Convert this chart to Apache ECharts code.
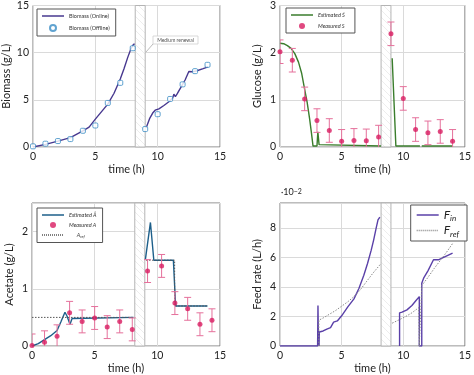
<!DOCTYPE html>
<html>
<head>
<meta charset="utf-8">
<script src="https://cdn.jsdelivr.net/npm/echarts@6/dist/echarts.min.js"></script>
<style>
  html, body { margin: 0; padding: 0; background: #fff; }
  #chart { width: 474px; height: 375px; }
</style>
</head>
<body>
<div id="chart"></div>
<script>
  // sample times (h)
  var tOff = [0, 1, 2, 3, 4, 5, 6, 7, 8, 9, 10, 11, 12, 13, 14];

  // biomass (g/L)
  var biomassOff = [0.07, 0.35, 0.63, 0.84, 1.72, 2.28, 4.67, 6.8, 10.47, 1.9, 3.48, 5.09, 6.64, 8.04, 8.71];
  var bioOnT = [0, 1, 2, 3, 4, 4.5, 5, 5.5, 6, 6.5, 7, 7.3, 7.6, 7.85, 8.05, 8.15, null,
    9.08, 9.35, 9.6, 9.8, 10.1, 10.5, 10.9, 11.2, 11.3, 11.42, 11.55, 11.85, 12.2, 12.5, 12.8, 13.15, 13.65, 14.05];
  var bioOnY = [0, 0.28, 0.62, 1.0, 1.7, 2.1, 2.95, 3.75, 4.55, 5.7, 7.2, 8.3, 9.5, 10.4, 10.85, 10.95, null,
    2.05, 3.0, 3.6, 3.9, 4.05, 4.4, 4.8, 5.2, 5.6, 5.35, 5.6, 6.3, 7.1, 8.0, 7.97, 8.08, 8.3, 8.5];

  // glucose (g/L)
  var glucoseMeas = [2.02, 1.84, 1.02, 0.56, 0.35, 0.12, 0.14, 0.13, 0.21, 2.4, 1.03, 0.37, 0.3, 0.33, 0.12];
  var glucoseErr = [0.25, 0.25, 0.25, 0.25, 0.25, 0.25, 0.25, 0.25, 0.25, 0.25, 0.25, 0.25, 0.25, 0.25, 0.25];
  var glcEstT = [0, 0.3, 0.6, 0.9, 1.2, 1.5, 1.75, 2.0, 2.2, 2.4, 2.55, 2.68, 3.0, 3.07, 3.17, 3.3, 8.2, null,
    9.1, 9.4, 11.35, null, 11.5, 14];
  var glcEstY = [2.2, 2.19, 2.15, 2.09, 1.98, 1.8, 1.57, 1.22, 0.95, 0.6, 0.3, 0.02, 0.02, 0.32, 0.05, 0.02, 0.02, null,
    1.88, 0.02, 0.02, null, 0.02, 0.02];

  // acetate (g/L)
  var acetateT = [0, 1, 2, 3, 4, 5, 6, 7, 8, 9.22, 10.34, 11.4, 12.42, 13.4, 14.36];
  var acetateMeas = [0.01, 0.065, 0.17, 0.58, 0.43, 0.49, 0.33, 0.43, 0.29, 1.31, 1.4, 0.75, 0.65, 0.38, 0.45];
  var acetateErr = [0.2, 0.2, 0.2, 0.2, 0.2, 0.2, 0.2, 0.2, 0.2, 0.2, 0.2, 0.2, 0.2, 0.2, 0.2];
  var acEstT = [0, 0.5, 1, 1.5, 2, 2.3, 2.63, 2.8, 3.03, 3.2, 3.35, 8.1, null, 9.05, 9.45, 9.72, 11.28, 11.46, 14];
  var acEstY = [0, 0.04, 0.11, 0.18, 0.27, 0.42, 0.59, 0.52, 0.38, 0.48, 0.5, 0.5, null, 1.52, 2.16, 1.5, 1.5, 0.7, 0.7];
  var arefT = [0, 8.1, null, 9.1, 11.38, 11.38, 14];
  var arefY = [0.5, 0.5, null, 1.5, 1.5, 0.7, 0.7];

  // feed rate (x 10^-2 L/h)
  var finT = [0, 3.05, 3.08, 3.11, 3.13, 3.15, 3.17, 3.19, 3.22, 3.5, 3.8, 4.1, 4.35, 4.65, 5.0, 5.5, 6.0, 6.4, 6.8, 7.1, 7.4, 7.6, 7.8, 7.95, 8.1, null,
    9.7, 9.7, 9.9, 10.3, 10.7, 11.0, 11.3, 11.3, 11.5, 11.5, 11.65, 12.0, 12.45, 12.85, 13.1, 14];
  var finY = [0, 0, 2.75, 0.9, 0, 0.9, 0, 0.95, 0.95, 1.02, 1.15, 1.25, 1.62, 1.7, 2.05, 2.65, 3.2, 3.9, 4.8, 5.6, 6.5, 7.2, 8.0, 8.55, 8.75, null,
    0, 2.25, 2.3, 2.45, 2.75, 3.05, 3.35, 0, 0, 4.25, 4.6, 5.1, 5.85, 5.85, 5.95, 6.3];
  var frefT = [3.15, 3.15, 3.5, 4, 4.5, 5, 5.5, 6, 6.5, 7, 7.5, 8.15, null,
    9.1, 9.6, 10.2, 10.7, 11.25, 11.3, 11.45, 11.5, 12, 12.5, 13, 13.5, 14];
  var frefY = [0, 1.75, 1.9, 2.15, 2.4, 2.7, 3.0, 3.35, 3.8, 4.35, 4.9, 5.55, null,
    1.55, 1.75, 2.0, 2.25, 2.6, 0, 0, 4.1, 4.65, 5.25, 5.8, 6.35, 6.95];

  // medium renewal window (h)
  var renewal = [8.2, 9.0];

  function zip(xs, ys) {
    return xs.map(function (x, i) { return x === null ? [null, null] : [x, ys[i]]; });
  }
  function errData(xs, ys, es) {
    return xs.map(function (x, i) { return [x, ys[i] - es[i], ys[i] + es[i]]; });
  }

  // legend icons: a solid stroke and a dotted stroke
  var solidIcon = "path://M0,0H44V3H0Z";
  var dottedIcon = "path://" + [0, 1, 2, 3, 4, 5, 6, 7, 8, 9, 10].map(function (k) {
    return "M" + (k * 4) + ",0h2v3h-2z";
  }).join("") + "M44,0h0.01v3h-0.01z";

  var hatch = document.createElement("canvas");
  hatch.width = 7;
  hatch.height = 7;
  var hc = hatch.getContext("2d");
  hc.fillStyle = "#fff";
  hc.fillRect(0, 0, 7, 7);
  hc.strokeStyle = "#e0e0e0";
  hc.lineWidth = 0.6;
  hc.beginPath();
  hc.moveTo(0, 0); hc.lineTo(7, 7);
  hc.moveTo(-7, 0); hc.lineTo(7, 14);
  hc.moveTo(0, -7); hc.lineTo(14, 7);
  hc.stroke();

  var font = "Lato";
  var errColor = "#e5709b";
  var dotColor = "#d81b60";

  function errRender(params, api) {
    var x = api.value(0);
    var lo = api.coord([x, api.value(1)]);
    var hi = api.coord([x, api.value(2)]);
    var w = 3.5;
    var st = { stroke: errColor, lineWidth: 1 };
    return {
      type: "group",
      children: [
        { type: "line", shape: { x1: lo[0], y1: lo[1], x2: hi[0], y2: hi[1] }, style: st },
        { type: "line", shape: { x1: hi[0] - w, y1: hi[1], x2: hi[0] + w, y2: hi[1] }, style: st },
        { type: "line", shape: { x1: lo[0] - w, y1: lo[1], x2: lo[0] + w, y2: lo[1] }, style: st },
      ],
    };
  }

  function hatchSeries(i) {
    return {
      type: "line",
      xAxisIndex: i,
      yAxisIndex: i,
      data: [],
      z: 1,
      markArea: {
        silent: true,
        itemStyle: { color: { image: hatch, repeat: "repeat" }, borderColor: "#b4b4b4", borderWidth: 1 },
        data: [[{ xAxis: renewal[0] }, { xAxis: renewal[1] }]],
      },
    };
  }

  var grids = [
    { left: 32, top: 4, width: 188, height: 143 },
    { left: 280, top: 4, width: 189, height: 143 },
    { left: 32, top: 203, width: 188, height: 143 },
    { left: 280, top: 203, width: 189, height: 143 },
  ].map(function (g) {
    g.show = true;
    g.borderColor = "#7a7a7a";
    g.borderWidth = 1;
    return g;
  });

  var xAxes = [0, 1, 2, 3].map(function (i) {
    return {
      type: "value",
      gridIndex: i,
      min: 0,
      max: 15,
      interval: 5,
      name: "time (h)",
      nameLocation: "middle",
      nameGap: 17,
      nameTextStyle: { fontFamily: font, fontSize: 11, color: "#222" },
      axisLine: { show: false },
      axisTick: { show: false },
      axisLabel: { fontFamily: font, fontSize: 10.5, color: "#222", margin: 4 },
      splitLine: { lineStyle: { color: "#dadada" } },
    };
  });

  var yNames = ["Biomass (g/L)", "Glucose (g/L)", "Acetate (g/L)", "Feed rate (L/h)"];
  var yMax = [15, 3, 2.5, 9.7];
  var yInt = [5, 1, 1, 2];
  var yGap = [21, 17, 17, 17];
  var yAxes = [0, 1, 2, 3].map(function (i) {
    return {
      type: "value",
      gridIndex: i,
      min: 0,
      max: yMax[i],
      interval: yInt[i],
      name: yNames[i],
      nameLocation: "middle",
      nameGap: yGap[i],
      nameTextStyle: { fontFamily: font, fontSize: 11, color: "#222" },
      axisLine: { show: false },
      axisTick: { show: false },
      axisLabel: { fontFamily: font, fontSize: 10.5, color: "#222", margin: 4, showMaxLabel: i < 2 },
      splitLine: { lineStyle: { color: "#dadada" } },
    };
  });

  var smallLegend = {
    orient: "vertical",
    backgroundColor: "#fff",
    borderColor: "#555",
    borderWidth: 1,
    borderRadius: 0,
    padding: [4, 6, 4, 5],
    itemGap: 5,
    itemWidth: 22,
    itemHeight: 6,
  };

  var charts = echarts.init(document.getElementById("chart"));
  var option = {
    animation: false,
    backgroundColor: "#fff",
    grid: grids,
    xAxis: xAxes,
    yAxis: yAxes,
    legend: [
      Object.assign({}, smallLegend, {
        left: 37,
        top: 9,
        data: [{ name: "Biomass (Online)", icon: solidIcon }, { name: "Biomass (Offline)", icon: "circle" }],
        textStyle: { fontFamily: font, fontSize: 5.5, color: "#333" },
      }),
      Object.assign({}, smallLegend, {
        left: 286,
        top: 8,
        padding: [4, 10, 4, 5],
        data: [{ name: "Estimated Ŝ", icon: solidIcon }, { name: "Measured S", icon: "circle" }],
        textStyle: { fontFamily: font, fontSize: 5.5, fontStyle: "italic", color: "#333" },
      }),
      Object.assign({}, smallLegend, {
        left: 37,
        top: 208,
        itemGap: 4,
        data: [{ name: "Estimated Â", icon: solidIcon }, { name: "Measured A", icon: "circle" }, { name: "Aref", icon: dottedIcon }],
        formatter: function (n) {
          return n === "Aref" ? "      {i|A}{s|ref}" : n;
        },
        textStyle: {
          fontFamily: font, fontSize: 5.5, fontStyle: "italic", color: "#333",
          rich: {
            i: { fontFamily: font, fontSize: 5.5, fontStyle: "italic", color: "#333" },
            s: { fontFamily: font, fontSize: 4, fontStyle: "italic", color: "#333", verticalAlign: "bottom", lineHeight: 7 },
          },
        },
      }),
      {
        orient: "vertical",
        right: 7,
        top: 205,
        backgroundColor: "#fff",
        borderColor: "#555",
        borderWidth: 1,
        padding: [4, 8, 3, 6],
        itemGap: 2,
        itemWidth: 22,
        itemHeight: 8,
        data: [{ name: "Fin", icon: solidIcon }, { name: "Fref", icon: dottedIcon }],
        formatter: function (n) {
          return n === "Fin" ? "{i|F}{s|in}" : "{i|F}{s|ref}";
        },
        textStyle: {
          rich: {
            i: { fontFamily: font, fontSize: 12, fontStyle: "italic", color: "#222", lineHeight: 15 },
            s: { fontFamily: font, fontSize: 8, fontStyle: "italic", color: "#222", verticalAlign: "bottom", lineHeight: 13 },
          },
        },
      },
    ],
    graphic: [
      {
        type: "rect",
        shape: { x: 153, y: 36, width: 45, height: 8 },
        style: { fill: "#fff", stroke: "#cfcfcf", lineWidth: 0.8 },
        z: 50,
      },
      {
        type: "text",
        x: 175.5,
        y: 40,
        style: { text: "Medium renewal", fontFamily: font, fontSize: 5, fill: "#555", align: "center", verticalAlign: "middle" },
        z: 51,
      },
      {
        type: "line",
        shape: { x1: 153, y1: 44, x2: 146, y2: 52 },
        style: { stroke: "#aaa", lineWidth: 0.8 },
        z: 50,
      },
      {
        type: "text",
        x: 281,
        y: 188,
        style: { text: "·10{s|−2}", fontFamily: font, fontSize: 9, fill: "#222",
          rich: { s: { fontSize: 7, verticalAlign: "top", fontFamily: font, fill: "#222" } } },
      },
    ],
    series: [
      hatchSeries(0),
      hatchSeries(1),
      hatchSeries(2),
      hatchSeries(3),
      // biomass
      {
        name: "Biomass (Online)",
        type: "line",
        xAxisIndex: 0,
        yAxisIndex: 0,
        symbol: "none",
        lineStyle: { color: "#47388f", width: 1.4 },
        itemStyle: { color: "#47388f" },
        data: zip(bioOnT, bioOnY),
        z: 3,
      },
      {
        name: "Biomass (Offline)",
        type: "scatter",
        xAxisIndex: 0,
        yAxisIndex: 0,
        symbol: "roundRect",
        symbolSize: 5,
        itemStyle: { color: "#fff", borderColor: "#3a8cc4", borderWidth: 1 },
        data: zip(tOff, biomassOff),
        z: 4,
      },
      // glucose
      {
        name: "Estimated Ŝ",
        type: "line",
        xAxisIndex: 1,
        yAxisIndex: 1,
        symbol: "none",
        lineStyle: { color: "#3a7d2c", width: 1.4 },
        itemStyle: { color: "#3a7d2c" },
        data: zip(glcEstT, glcEstY),
        z: 3,
      },
      {
        type: "custom",
        xAxisIndex: 1,
        yAxisIndex: 1,
        clip: true,
        renderItem: errRender,
        data: errData(tOff, glucoseMeas, glucoseErr),
        z: 4,
      },
      {
        name: "Measured S",
        type: "scatter",
        xAxisIndex: 1,
        yAxisIndex: 1,
        symbol: "circle",
        symbolSize: 5,
        itemStyle: { color: dotColor },
        data: zip(tOff, glucoseMeas),
        z: 5,
      },
      // acetate
      {
        name: "Estimated Â",
        type: "line",
        xAxisIndex: 2,
        yAxisIndex: 2,
        symbol: "none",
        lineStyle: { color: "#1d5f8a", width: 1.4 },
        itemStyle: { color: "#1d5f8a" },
        data: zip(acEstT, acEstY),
        z: 3,
      },
      {
        name: "Aref",
        type: "line",
        xAxisIndex: 2,
        yAxisIndex: 2,
        symbol: "none",
        lineStyle: { color: "#555", width: 1, type: [1.5, 1.5] },
        itemStyle: { color: "#555" },
        data: zip(arefT, arefY),
        z: 4,
      },
      {
        type: "custom",
        xAxisIndex: 2,
        yAxisIndex: 2,
        clip: true,
        renderItem: errRender,
        data: errData(acetateT, acetateMeas, acetateErr),
        z: 5,
      },
      {
        name: "Measured A",
        type: "scatter",
        xAxisIndex: 2,
        yAxisIndex: 2,
        symbol: "circle",
        symbolSize: 5,
        itemStyle: { color: dotColor },
        data: zip(acetateT, acetateMeas),
        z: 6,
      },
      // feed rate
      {
        name: "Fin",
        type: "line",
        xAxisIndex: 3,
        yAxisIndex: 3,
        symbol: "none",
        lineStyle: { color: "#5a40a8", width: 1.4 },
        itemStyle: { color: "#5a40a8" },
        data: zip(finT, finY),
        z: 3,
      },
      {
        name: "Fref",
        type: "line",
        xAxisIndex: 3,
        yAxisIndex: 3,
        symbol: "none",
        lineStyle: { color: "#888", width: 1, type: [1.5, 1.5] },
        itemStyle: { color: "#888" },
        data: zip(frefT, frefY),
        z: 4,
      },
    ],
  };
  charts.setOption(option);
</script>
</body>
</html>
